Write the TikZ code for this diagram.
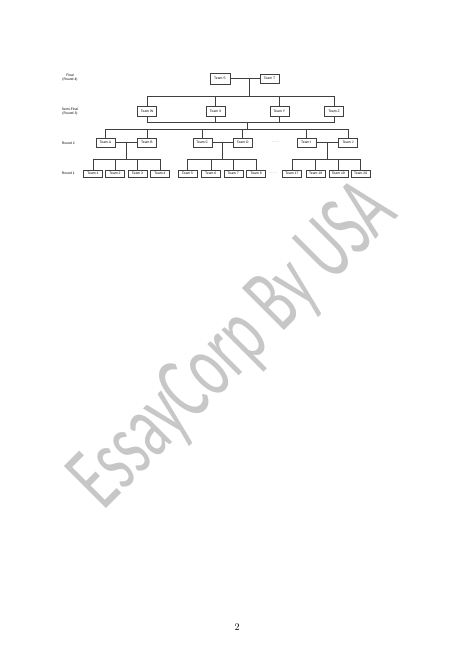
\documentclass[tikz,border=0pt]{standalone}
\usepackage{fontspec}
\usetikzlibrary{positioning,calc}
\newfontfamily\teamfont{Liberation Sans}
\newfontfamily\markfont{Carlito}

\begin{document}
\begin{tikzpicture}[x=1pt,y=1pt,
  team/.style={draw=black!75, line width=0.45pt, minimum width=19pt, minimum height=8.5pt, inner sep=0pt, font=\teamfont\fontsize{3.4}{4}\selectfont},
  roundlabel/.style={align=center, inner sep=0pt, font=\teamfont\fontsize{3.4}{4}\selectfont},
  link/.style={draw=black!75, line width=0.45pt}]
  \useasboundingbox (0,0) rectangle (474,669);

  % Draw the round labels
  \node[roundlabel] (final) at (70,591) {Final\\(Round 4)};
  \node[roundlabel] (semi) at (70,557) {Semi-Final\\(Round 3)};
  \node[roundlabel] (round2) at (68.3,526) {Round 2};
  \node[roundlabel] (round1) at (68.3,495.7) {Round 1};

  % Draw the final and the semi-finals
  \node[team, minimum width=20pt, minimum height=11pt] (S) at (220,590.5) {Team S};
  \node[team] (T) at (269.5,590.5) {Team T};
  \node[team, minimum height=9.5pt] (W) at (147.2,558) {Team W};
  \node[team, minimum height=9.5pt] (X) at (215.7,558) {Team X};
  \node[team, minimum height=9.5pt] (Y) at (279.3,558) {Team Y};
  \node[team, minimum height=9.5pt] (Z) at (334,558) {Team Z};

  % Draw round 2
  \node[team] (A) at (105.5,526.5) {Team A};
  \node[team] (B) at (147,526.5) {Team B};
  \node[team] (C) at (202.3,526.5) {Team C};
  \node[team] (D) at (242.7,526.5) {Team D};
  \node[team] (I) at (306.3,526.5) {Team I};
  \node[team] (J) at (348,526.5) {Team J};
  \node[roundlabel, text=black!60] (dots2) at (275.5,526.3) {……};

  % Draw round 1
  \foreach \n/\x in {1/93,2/115,3/137.5,4/160,5/187.5,6/210.8,7/233.3,8/256.2,17/292,18/315.7,19/338.3,20/360.7}
    \node[team, minimum height=7.6pt] (t\n) at (\x,495.3) {Team \n};
  \node[roundlabel, text=black!60] (dots1) at (273.5,495.8) {……};

  % Join final to the semi-finals
  \draw[link] (S) -- (T);
  \coordinate (fmid) at (249,590.5);
  \coordinate (fbar) at (249,572.3);
  \draw[link] (fmid) -- (fbar);
  \foreach \t in {W,X,Y,Z}
    \draw[link] (fbar) -| (\t.north);

  % Join the semi-finals to round 2
  \coordinate (sbar) at (247.7,547);
  \coordinate (qbar) at (247.7,540);
  \foreach \t in {W,X,Y,Z}
    \draw[link] (\t.south) |- (sbar);
  \draw[link] (sbar) -- (qbar);
  \foreach \t in {A,B,C,D,I,J}
    \draw[link] (qbar) -| (\t.north);

  % Join round 2 pairs to round 1
  \foreach \a/\b/\p/\q/\r/\s in {A/B/1/2/3/4, C/D/5/6/7/8, I/J/17/18/19/20} {
    \draw[link] (\a) -- (\b);
    \coordinate (m\a) at ($(\a.east)!0.5!(\b.west)$);
    \path (m\a) ++(0,-17) coordinate (j\a);
    \draw[link] (m\a) -- (j\a);
    \foreach \t in {\p,\q,\r,\s}
      \draw[link] (j\a) -| (t\t.north);
  }

  % Watermark and page number
  \node[rotate=45, yscale=1.6, anchor=base west, inner sep=0pt, text=black!22, font=\markfont\fontsize{58}{58}\selectfont] (mark) at (103,157) {EssayCorp By USA};
  \node[font=\fontsize{10}{12}\selectfont] (page) at (237,42) {2};
\end{tikzpicture}
\end{document}
